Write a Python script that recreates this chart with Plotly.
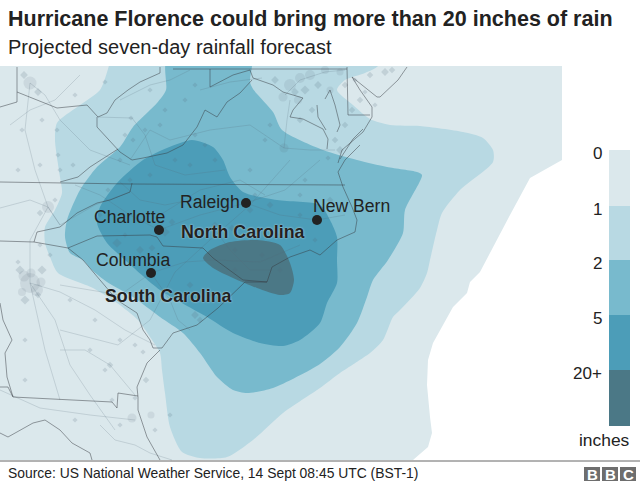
import plotly.graph_objects as go

# rainfall bands in map pixels (x, y)
band0_x = [0, 562, 562, 530, 510, 486, 480, 470, 467, 453, 433, 428, 427, 430, 432, 428, 413, 0]
band0_y = [66, 66, 160, 178, 215, 260, 272, 282, 293, 307, 343, 360, 385, 417, 433, 447, 460, 460]

band1_x = [110, 100, 83, 57, 55, 60, 62, 55, 45, 45, 50, 58, 93, 117, 138, 150, 160, 162, 165, 170, 182, 200, 227, 253, 283, 320, 340, 370, 383, 393, 400, 420, 427, 430, 437, 442, 460, 493, 493, 483, 463, 420, 390, 370, 353, 337, 345, 365, 378, 378, 110]
band1_y = [62, 90, 103, 123, 140, 177, 193, 210, 227, 243, 257, 273, 288, 303, 320, 337, 353, 370, 393, 427, 452, 458, 457, 440, 413, 388, 373, 353, 340, 317, 310, 288, 273, 260, 230, 213, 190, 162, 150, 138, 132, 126, 125, 119, 105, 90, 80, 73, 66, 60, 60]

band2_x = [167, 166, 157, 133, 120, 97, 80, 67, 65, 70, 83, 92, 107, 133, 160, 183, 200, 217, 233, 247, 273, 320, 340, 357, 367, 373, 388, 403, 405, 422, 417, 387, 357, 323, 282, 273, 253, 250, 252, 252, 167]
band2_y = [60, 90, 103, 127, 147, 167, 190, 220, 237, 253, 260, 270, 282, 297, 317, 333, 353, 377, 390, 393, 388, 364, 347, 323, 297, 280, 260, 233, 210, 175, 172, 167, 160, 150, 130, 112, 89, 82, 66, 60, 60]

band3_x = [192, 213, 223, 230, 243, 277, 320, 330, 337, 337, 337, 327, 320, 300, 283, 260, 233, 207, 160, 125, 107, 97, 100, 117, 143, 167, 192]
band3_y = [140, 147, 160, 177, 192, 200, 205, 220, 237, 260, 283, 303, 323, 340, 346, 343, 333, 317, 290, 260, 243, 223, 207, 183, 160, 148, 140]

band4_x = [230, 257, 280, 290, 294, 290, 280, 257, 233, 213, 203, 210, 230]
band4_y = [242, 240, 245, 263, 280, 293, 295, 288, 278, 268, 258, 250, 242]

band_colors = ["#dbe8ec", "#b8d9e3", "#78bacd", "#4c9db8", "#4b7886"]

# state lines and coast
borders = [
    ([0, 130, 345], [182, 184, 185]),
    ([132, 130, 110, 97, 77, 60, 37, 34], [183, 192, 200, 203, 213, 227, 232, 242]),
    ([0, 34, 68, 97, 150, 157, 163, 203, 213, 243, 267], [241, 242, 248, 236, 235, 237, 246, 248, 258, 280, 282]),
    ([267, 272, 290, 310, 320, 337, 355, 357, 352, 343, 338, 345, 360], [282, 267, 257, 250, 255, 240, 232, 220, 207, 187, 172, 160, 145]),
    ([338, 342, 363, 372, 372, 360, 352], [163, 150, 132, 117, 107, 90, 77]),
    ([348, 370], [115, 115]),
    ([348, 347, 347], [115, 80, 67]),
    ([352, 377, 380, 398, 407], [77, 97, 97, 80, 67]),
    ([173, 347], [69, 69]),
    ([210, 210, 233, 250, 253, 273, 283, 303, 293, 290, 303, 323, 328, 327], [69, 87, 75, 70, 78, 85, 92, 98, 110, 117, 119, 129, 139, 149]),
    ([252, 240, 227, 217, 205, 197, 183, 167, 143, 132, 120, 97, 97], [80, 93, 102, 117, 110, 127, 145, 153, 158, 160, 152, 127, 117]),
    ([160, 160, 140, 128, 115, 107, 98, 87, 57, 37, 17, 17, 0], [67, 73, 82, 90, 100, 113, 117, 105, 108, 100, 92, 102, 107]),
    ([17, 17], [67, 92]),
    ([118, 90, 78, 60], [149, 167, 177, 182]),
    ([68, 83, 100, 117, 137, 143, 150, 153, 162], [248, 260, 280, 300, 313, 330, 340, 348, 348]),
    ([162, 173, 197, 218, 245, 267], [348, 333, 325, 308, 282, 282]),
    ([160, 147, 137, 138, 138, 147, 160], [350, 363, 387, 397, 410, 437, 460]),
    ([138, 118, 117, 112, 13, 8, 0], [396, 393, 408, 402, 397, 387, 387]),
    ([0, 3, 12, 5, 7, 13], [303, 320, 340, 353, 377, 397]),
    ([0, 8, 33, 45, 60, 72, 90, 92], [433, 437, 423, 420, 430, 443, 453, 460]),
    ([317, 318, 326], [105, 117, 130]),
    ([325, 330, 335, 340, 337], [99, 90, 105, 125, 132]),
    ([363, 353, 340], [129, 139, 159]),
]

roads = [
    ([30, 45, 60, 90, 130], [83, 95, 120, 150, 165]),
    ([30, 25, 35, 48, 60, 95, 130], [83, 130, 170, 207, 225, 205, 192]),
    ([48, 30, 30, 45, 60], [207, 240, 283, 350, 400]),
    ([30, 60, 95, 125, 155], [283, 292, 310, 330, 345]),
    ([30, 55, 70, 90, 115], [283, 320, 365, 395, 430]),
    ([0, 40, 90, 135], [390, 408, 415, 420]),
    ([60, 118, 150, 175, 210, 250, 290], [330, 345, 320, 272, 240, 205, 160]),
    ([159, 130, 100, 75], [230, 215, 195, 185]),
    ([159, 200, 246, 285, 320], [230, 215, 203, 190, 160]),
    ([246, 280, 317, 345], [203, 215, 220, 215]),
    ([151, 185, 215, 260, 300], [273, 262, 260, 262, 245]),
    ([151, 120, 90, 60], [273, 295, 290, 285]),
    ([151, 170, 178, 190], [273, 300, 320, 330]),
    ([130, 150, 170, 210, 250, 284], [160, 130, 140, 130, 125, 148]),
    ([97, 132, 145, 155, 185, 225], [117, 118, 135, 165, 175, 170]),
    ([284, 287, 290], [148, 120, 100]),
    ([284, 310, 335], [148, 150, 150]),
    ([200, 230, 262], [90, 82, 78]),
    ([120, 150, 170, 190], [100, 85, 80, 70]),
    ([285, 300, 325, 345], [95, 80, 72, 70]),
    ([160, 200, 240, 265], [215, 190, 180, 195]),
    ([0, 30, 48, 60], [208, 200, 207, 225]),
    ([100, 115, 135, 150, 172], [425, 440, 445, 453, 460]),
    ([60, 85, 110, 135], [350, 350, 365, 395]),
    ([10, 30, 55, 80], [125, 110, 100, 75]),
    ([215, 230, 250, 272], [230, 250, 270, 270]),
    ([120, 140, 165, 190], [182, 200, 205, 200]),
]

# big urban blobs
metro_x = [30, 48, 30, 24, 37, 290, 300, 283, 310, 325, 340, 298, 330, 284, 31, 41, 22, 132, 151]
metro_y = [83, 207, 283, 276, 290, 85, 78, 97, 75, 70, 72, 100, 90, 148, 273, 282, 292, 418, 415]
metro_size = [13, 12, 20, 11, 12, 12, 10, 9, 10, 8, 7, 8, 7, 9, 9, 9, 8, 9, 7]

# small towns
town_x = [24, 38, 40, 55, 20, 42, 25, 38, 18, 312, 355, 365, 375, 340, 335, 328,
          117, 125, 140, 165, 172, 152, 215, 232, 250, 255, 270, 300, 250, 215, 190, 205, 175, 195, 130, 150, 100, 108, 235, 262, 280, 145, 160,
          185, 195, 150, 165, 125, 131, 133, 120, 57, 58, 40, 73, 60, 42, 22, 18, 75, 105, 40, 50, 70, 95, 120, 135, 110, 143, 146, 135, 112,
          155, 170, 190, 195, 200, 25, 25, 90, 105, 75, 120, 210, 235, 280, 300, 305, 330, 315,
          275, 295, 305, 318, 345, 360, 370, 385, 392, 300, 270, 265, 345, 352]
town_y = [75, 92, 213, 200, 270, 270, 300, 295, 262, 110, 80, 92, 105, 150, 140, 158,
          243, 235, 250, 232, 222, 248, 225, 228, 210, 195, 205, 215, 170, 160, 165, 145, 160, 135, 180, 175, 215, 190, 250, 255, 270, 130, 125,
          100, 85, 90, 110, 135, 118, 140, 160, 130, 155, 165, 165, 170, 120, 130, 170, 95, 82, 245, 255, 300, 320, 340, 345, 365, 352, 380, 398, 400,
          430, 415, 285, 315, 320, 340, 380, 350, 370, 420, 425, 295, 270, 235, 195, 180, 200, 240,
          80, 92, 90, 85, 85, 100, 75, 72, 70, 120, 125, 140, 125, 110]
town_size = [6, 6, 5, 4, 7, 7, 7, 5, 4, 5, 4, 4, 4, 6, 5, 4,
             7, 4, 6, 7, 5, 5, 5, 5, 5, 4, 5, 4, 4, 4, 4, 4, 4, 4, 4, 4, 4, 4, 4, 4, 4, 4, 4,
             4, 4, 4, 4, 4, 4, 4, 4, 4, 4, 4, 4, 4, 4, 4, 4, 4, 4, 4, 4, 4, 4, 4, 4, 5, 4, 5, 4, 4,
             4, 4, 5, 6, 5, 4, 4, 4, 4, 4, 4, 4, 4, 4, 4, 4, 5, 4,
             6, 6, 7, 6, 5, 5, 5, 6, 5, 5, 4, 4, 5, 5]

place_names = ["Charlotte", "Raleigh", "New Bern", "Columbia"]
place_x = [159, 246, 317, 151]
place_y = [230, 203, 220, 273]
place_label_x = [129, 210, 351, 133]
place_label_y = [217, 202, 206, 260]

state_names = ["North Carolina", "South Carolina"]
state_x = [243, 168]
state_y = [232, 296]

legend_edges = [150, 206, 260, 315, 370, 426]
legend_labels = ["0", "1", "2", "5", "20+"]

bbc_letters = ["B", "B", "C"]
bbc_left = [584, 602, 620]

fig = go.Figure()

bands = [(band0_x, band0_y, "linear"), (band1_x, band1_y, "spline"), (band2_x, band2_y, "spline"),
         (band3_x, band3_y, "spline"), (band4_x, band4_y, "spline")]
for (bx, by, kind), col in zip(bands, band_colors):
    fig.add_trace(go.Scatter(x=bx, y=by, mode="lines", fill="toself", fillcolor=col,
                             line=dict(width=0, color=col, shape=kind, smoothing=0.7), hoverinfo="skip"))

for rx, ry in roads:
    fig.add_trace(go.Scatter(x=rx, y=ry, mode="lines", hoverinfo="skip",
                             line=dict(color="rgba(85,105,120,0.25)", width=0.8)))

fig.add_trace(go.Scatter(x=metro_x, y=metro_y, mode="markers", hoverinfo="skip",
                         marker=dict(size=metro_size, symbol="circle", color="rgba(85,105,120,0.17)", line=dict(width=0))))
fig.add_trace(go.Scatter(x=town_x, y=town_y, mode="markers", hoverinfo="skip",
                         marker=dict(size=town_size, symbol="diamond", color="rgba(85,105,120,0.26)", line=dict(width=0))))

for bx, by in borders:
    fig.add_trace(go.Scatter(x=bx, y=by, mode="lines", hoverinfo="skip",
                             line=dict(color="rgba(55,60,65,0.7)", width=0.7)))

fig.add_trace(go.Scatter(x=place_x, y=place_y, mode="markers", hoverinfo="skip",
                         marker=dict(size=10, color="#222222", line=dict(width=0))))

# legend blocks
shapes = []
for i, col in enumerate(band_colors):
    shapes.append(dict(type="rect", xref="x", yref="y", x0=609, x1=630, y0=legend_edges[i], y1=legend_edges[i + 1],
                       fillcolor=col, line=dict(width=0), layer="above"))
# hides the spline overshoot above the map
shapes.append(dict(type="rect", xref="x", yref="y", x0=0, x1=640, y0=0, y1=66, fillcolor="white", line=dict(width=0), layer="above"))
shapes.append(dict(type="rect", xref="x", yref="y", x0=0, x1=640, y0=461, y1=486, fillcolor="white", line=dict(width=0), layer="above"))
shapes.append(dict(type="line", xref="x", yref="y", x0=0, x1=640, y0=461, y1=461, line=dict(color="#666666", width=1), layer="above"))
for left in bbc_left:
    shapes.append(dict(type="rect", xref="x", yref="y", x0=left, x1=left + 16, y0=467, y1=481,
                       fillcolor="#6e6e6e", line=dict(width=0), layer="above"))

FONT = "Liberation Sans"
notes = []

def note(text, x, y, size, anchor="left", color="#222222", bold=False, shadow=None):
    font = dict(family=FONT, size=size, color=color)
    if shadow:
        font["shadow"] = shadow
    notes.append(dict(text="<b>%s</b>" % text if bold else text, x=x, y=y, xref="x", yref="y",
                      xanchor=anchor, yanchor="middle", showarrow=False, font=font))

note("Hurricane Florence could bring more than 20 inches of rain", 6, 19, 21.5, bold=True)
note("Projected seven-day rainfall forecast", 6, 47, 20)
note("Source: US National Weather Service, 14 Sept 08:45 UTC (BST-1)", 6, 473, 13.9)
for name, lx, ly in zip(place_names, place_label_x, place_label_y):
    note(name, lx, ly, 17.6, anchor="center")
halo = "0 0 2px rgba(225,235,240,0.9)"
for name, sx, sy in zip(state_names, state_x, state_y):
    note(name, sx, sy, 17.8, anchor="center", bold=True, shadow=halo)
for i, lab in enumerate(legend_labels):
    note(lab, 604, legend_edges[i] + 3, 17, anchor="right")
note("inches", 632, 440, 17.4, anchor="right")
for letter, left in zip(bbc_letters, bbc_left):
    note(letter, left + 8, 474, 15, anchor="center", color="white", bold=True)

fig.update_layout(
    width=640, height=486, margin=dict(l=0, r=0, t=0, b=0), showlegend=False,
    paper_bgcolor="white", plot_bgcolor="white",
    xaxis=dict(range=[0, 640], visible=False, fixedrange=True),
    yaxis=dict(range=[486, 0], visible=False, fixedrange=True),
    shapes=shapes, annotations=notes,
)

fig.write_html("out.html", config={"displayModeBar": False},
               post_script="document.body.style.margin='0';")
